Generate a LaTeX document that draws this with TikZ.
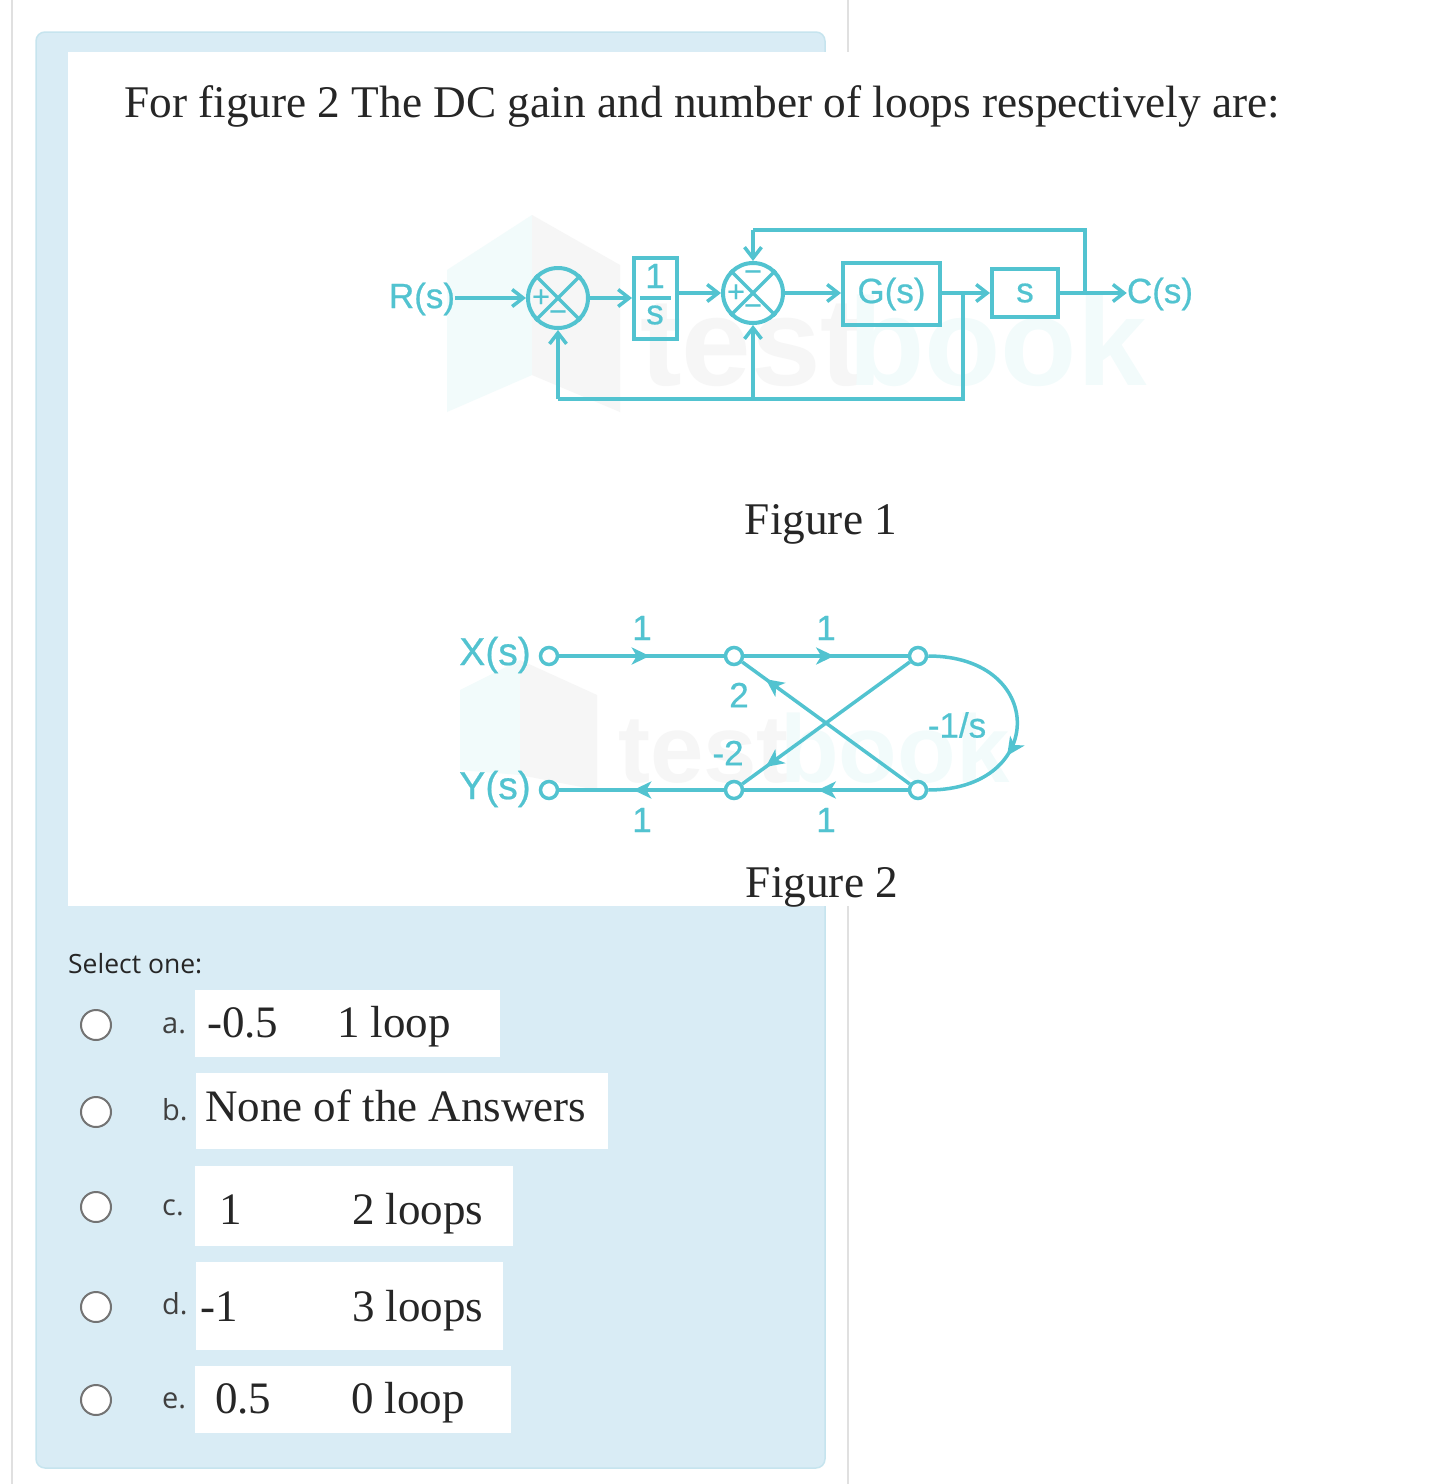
\documentclass[tikz,border=0pt]{standalone}
\usepackage{fontspec}
\setmainfont{Liberation Serif}
\setsansfont{Liberation Sans}
\newfontfamily\uifont{Open Sans}
\newfontfamily\sigfont[FakeBold=0.6]{Liberation Sans}
\usetikzlibrary{arrows.meta,decorations.markings}
\definecolor{panelblue}{HTML}{D9ECF5}
\definecolor{panelline}{HTML}{C6E4EE}
\definecolor{teal}{HTML}{52C3D0}
\definecolor{markgrey}{HTML}{F6F6F6}
\definecolor{markcyan}{HTML}{F2FBFB}
\begin{document}
\begin{tikzpicture}[x=1pt,y=-1pt]

\tikzset{question/.style={font=\fontsize{45.3}{50}\selectfont,text=black!85,inner sep=0pt},
  answer/.style={font=\fontsize{45}{50}\selectfont,text=black!85,anchor=base west,inner sep=0pt},
  letter/.style={font=\uifont\fontsize{29}{34}\selectfont,text=black!75,anchor=base west,inner sep=0pt},
  radio/.style={circle,draw=black!55,line width=2pt,fill=white,minimum size=30pt,inner sep=0pt},
  sig/.style={font=\sigfont\fontsize{35}{38}\selectfont,text=teal,inner sep=0pt},
  sign/.style={font=\sigfont\fontsize{30}{32}\selectfont,text=teal,inner sep=0pt},
  wire/.style={draw=teal,line width=3.5pt,>={Straight Barb[length=11pt,width=17pt]}},
  block/.style={draw=teal,line width=4pt,inner sep=0pt,font=\sigfont\fontsize{35}{38}\selectfont,text=teal},
  summer/.style={circle,draw=teal,line width=4pt,minimum size=60pt,inner sep=0pt},
  sgnode/.style={circle,draw=teal,line width=3.5pt,fill=white,minimum size=17pt,inner sep=0pt},
  markat/.style={postaction={decorate},decoration={markings,mark=at position #1 with {\arrow{Stealth[length=18pt,width=17pt,inset=5pt]}}}}}

\useasboundingbox (0,0) rectangle (1439,1484);

% page and panel
\draw[black!12,line width=2pt] (12,0) -- (12,1484);
\draw[black!12,line width=2pt] (848,0) -- (848,1484);
\draw[panelline,fill=panelblue,line width=1.5pt,rounded corners=9pt] (36,32) rectangle (825,1468);
\fill[white] (68,52) rectangle (849,906);
\fill[white] (195,990) rectangle (500,1057);
\fill[white] (196,1073) rectangle (608,1149);
\fill[white] (195,1166) rectangle (513,1246);
\fill[white] (196,1262) rectangle (503,1350);
\fill[white] (195,1366) rectangle (511,1433);

\node[question,anchor=base west] (title) at (124,117) {For figure 2 The DC gain and number of loops respectively are:};
\node[question] (capa) at (821,524) {Figure 1};
\node[question] (capb) at (822,887) {Figure 2};

% watermarks
\fill[markcyan] (447,270) -- (532,215) -- (532,375) -- (447,412) -- cycle;
\fill[markgrey] (532,215) -- (620,265) -- (620,412) -- (532,375) -- cycle;
\node[font=\sffamily\bfseries\fontsize{125}{130}\selectfont,text=markgrey,anchor=base west,inner sep=0pt] (marktop) at (640,385) {test};
\node[font=\sffamily\bfseries\fontsize{125}{130}\selectfont,text=markcyan,anchor=base west,inner sep=0pt] (marktopb) at (848,385) {book};
\fill[markcyan] (460,690) -- (520,660) -- (520,775) -- (460,770) -- cycle;
\fill[markgrey] (520,660) -- (597,695) -- (597,790) -- (520,775) -- cycle;
\node[font=\sffamily\bfseries\fontsize{96}{100}\selectfont,text=markgrey,anchor=base west,inner sep=0pt] (markbot) at (618,782) {test};
\node[font=\sffamily\bfseries\fontsize{96}{100}\selectfont,text=markcyan,anchor=base west,inner sep=0pt] (markbotb) at (780,782) {book};

% figure 1
\node[sig] (rs) at (422,299) {R(s)};
\node[summer] (sa) at (558,298) {};
\node[block,minimum width=43pt,minimum height=81pt] (fr) at (655.5,298.5) {};
\node[sig] (fn) at (655,276) {1};
\node[sig] (fd) at (655,315) {s};
\node[summer] (sb) at (753,293) {};
\node[block,minimum width=97pt,minimum height=62pt] (gs) at (891.5,294) {G(s)};
\node[block,minimum width=66pt,minimum height=48pt] (ss) at (1025,293) {s};
\node[sig] (cs) at (1160,294) {C(s)};

\foreach \n in {sa,sb} {
  \draw[wire] (\n.45) -- (\n.225);
  \draw[wire] (\n.135) -- (\n.315);
}
\draw[wire] (640,298) -- (671,298);
\node[sign] (pa) at (541,298) {+};
\node[sign] (ma) at (558,316) {\textminus};
\node[sign] (pb) at (736,293) {+};
\node[sign] (mb) at (753,276) {\textminus};
\node[sign] (mc) at (753,310) {\textminus};

\coordinate (jb) at (963,293);
\coordinate (jc) at (1085,293);
\coordinate (tr) at (1085,230);
\coordinate (tl) at (753,230);
\coordinate (lr) at (963,399);
\coordinate (lm) at (753,399);
\coordinate (ll) at (558,399);

\draw[wire,->] (rs.east |- sa) -- (sa);
\draw[wire,->] (sa) -- (fr.west |- sa);
\draw[wire,->] (fr.east |- sb) -- (sb);
\draw[wire,->] (sb) -- (gs.west |- sb);
\draw[wire,->] (gs.east |- ss) -- (ss);
\draw[wire,->] (ss) -- (cs.west |- ss);
\draw[wire] (jb) -- (lr) -- (ll);
\draw[wire,->] (ll) -- (sa);
\draw[wire,->] (lm) -- (sb);
\draw[wire] (jc) -- (tr) -- (tl);
\draw[wire,->] (tl) -- (sb);

% figure 2
\node[sgnode] (xa) at (549,656) {};
\node[sgnode] (xb) at (734,656) {};
\node[sgnode] (xc) at (918,656) {};
\node[sgnode] (ya) at (549,790) {};
\node[sgnode] (yb) at (734,790) {};
\node[sgnode] (yc) at (918,790) {};
\node[sig,anchor=east,font=\sigfont\fontsize{39}{42}\selectfont] (xs) at (531,655) {X(s)};
\node[sig,anchor=east,font=\sigfont\fontsize{39}{42}\selectfont] (ys) at (531,789) {Y(s)};

\draw[wire,markat=0.55] (xa) -- (xb);
\draw[wire,markat=0.55] (xb) -- (xc);
\draw[wire,markat=0.55] (yc) -- (yb);
\draw[wire,markat=0.55] (yb) -- (ya);
\draw[wire,markat=0.86] (yc) -- (xb);
\draw[wire,markat=0.86] (xc) -- (yb);
\draw[wire,markat=0.64] (xc.east) .. controls (1047,656) and (1047,790) .. (yc.east);

\node[sig] (la) at (642,628) {1};
\node[sig] (lb) at (826,628) {1};
\node[sig] (lc) at (642,820) {1};
\node[sig] (ld) at (826,820) {1};
\node[sig] (le) at (739,695) {2};
\node[sig] (lf) at (728,753) {-2};
\node[sig] (lg) at (957,725) {-1/s};

% answers
\node[font=\uifont\fontsize{26.5}{32}\selectfont,text=black!85,anchor=base west,inner sep=0pt] (sel) at (68,973) {Select one:};

\foreach \n/\y in {a/1025,b/1112,c/1207,d/1307,e/1400}
  \node[radio] (radio\n) at (96,\y) {};

\node[letter] (lta) at (162,1033) {a.};
\node[letter] (ltb) at (162,1120) {b.};
\node[letter] (ltc) at (162,1215) {c.};
\node[letter] (ltd) at (162,1314) {d.};
\node[letter] (lte) at (162,1408) {e.};

\node[answer] (aa) at (207,1037) {-0.5};
\node[answer] (ab) at (337,1037) {1 loop};
\node[answer] (ba) at (205,1121) {None of the Answers};
\node[answer] (ca) at (219,1224) {1};
\node[answer] (cb) at (352,1224) {2 loops};
\node[answer] (da) at (200,1321) {-1};
\node[answer] (db) at (352,1321) {3 loops};
\node[answer] (ea) at (215,1413) {0.5};
\node[answer] (eb) at (351,1413) {0 loop};

\end{tikzpicture}
\end{document}
